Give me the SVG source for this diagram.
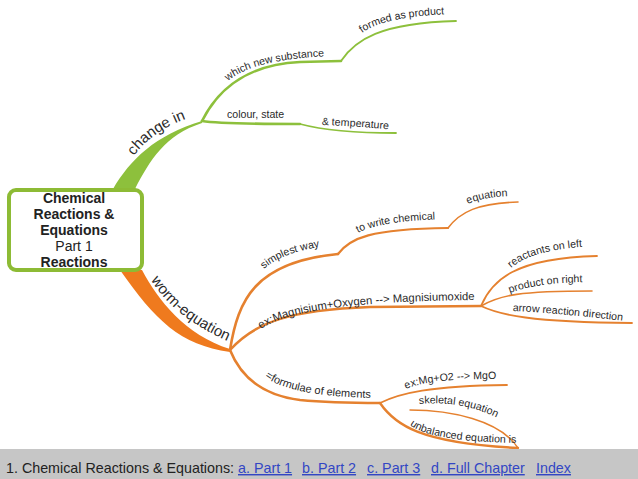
<svg xmlns="http://www.w3.org/2000/svg" width="638" height="479" viewBox="0 0 638 479">
<style>
.lbl{font-family:"Liberation Sans",Arial,sans-serif;font-size:10.6px;fill:#2a2a2a}
.big{font-family:"Liberation Sans",Arial,sans-serif;font-size:15px;fill:#2a2a2a}
.g{fill:none;stroke:#8dc03c;stroke-linecap:round}
.o{fill:none;stroke:#e5812f;stroke-linecap:round}
.ctr{font-family:"Liberation Sans",Arial,sans-serif;font-size:14px;fill:#222;text-anchor:middle}
.b{font-weight:bold}
.foot{font-family:"Liberation Sans",Arial,sans-serif;font-size:14.3px;fill:#222}
.lnk{fill:#3346c4;text-decoration:underline}
</style>
<defs>
<path id="pChange" d="M134,156 Q152,130 194,116"/>
<path id="pWorm" d="M151,280 Q174,318 232,343"/>
<path id="pWhich" d="M228,81 Q255,58 336,56"/>
<path id="pFormed" d="M362,33 Q385,16 452,14"/>
<path id="pTemp" d="M322,125 Q355,126 396,130"/>
<path id="pSimplest" d="M264,269 Q285,250 334,245"/>
<path id="pWrite" d="M358,233 Q380,221 444,219"/>
<path id="pEquation" d="M468,204 Q485,196 518,196"/>
<path id="pMagn" d="M261,329 Q300,301 480,300"/>
<path id="pReact" d="M511,268 Q532,249 594,246"/>
<path id="pProduct" d="M510,293 Q540,282 592,282"/>
<path id="pArrow" d="M513,311 Q560,313 632,322"/>
<path id="pFormulae" d="M265,377 Q292,397 378,398"/>
<path id="pMg" d="M406,389 Q430,378 506,379"/>
<path id="pSkel" d="M419,404 Q466,400 503,421"/>
<path id="pUnbal" d="M410,425 Q431,442 522,443"/>
</defs>
<rect width="638" height="479" fill="#ffffff"/>
<g id="connectors">
<path d="M113,189 C130,160 155,135 202,121 L202,123 C165,135 150,160 135,189 Z" fill="#8dc03c"/>
<path class="g" stroke-width="2.6" d="M202,121 C215,95 240,65 300,62 L341,61"/>
<path class="g" stroke-width="1.8" d="M341,61 C355,40 380,23 456,21"/>
<path class="g" stroke-width="2.6" d="M202,121 C220,124 260,124 300,124"/>
<path class="g" stroke-width="1.8" d="M300,124 C315,128 340,133 396,133"/>
<path d="M142,270 C158,300 185,335 230,349 L230,352 C180,345 155,320 120,270 Z" fill="#ef7a1e"/>
<path class="o" stroke-width="2.6" d="M230,350 C238,300 255,262 338,254"/>
<path class="o" stroke-width="2.2" d="M338,254 C350,238 370,229 448,228"/>
<path class="o" stroke-width="1.6" d="M448,228 C460,212 478,203 518,202"/>
<path class="o" stroke-width="2.6" d="M230,350 C255,322 290,310 370,307 L481,306"/>
<path class="o" stroke-width="1.8" d="M481,306 C492,280 515,258 597,256"/>
<path class="o" stroke-width="1.6" d="M481,306 C500,295 520,291 592,291"/>
<path class="o" stroke-width="1.8" d="M481,306 C500,315 530,322 632,323"/>
<path class="o" stroke-width="2.6" d="M230,350 C240,375 260,395 300,400 C330,403 360,403 380,403"/>
<path class="o" stroke-width="1.8" d="M380,403 C400,393 430,386 507,385"/>
<path class="o" stroke-width="2.4" d="M380,403 C395,425 420,443 518,448"/>
<path class="o" stroke-width="1.4" d="M410,410 C450,410 500,420 518,448"/>
</g>
<g id="central">
<rect x="9" y="190" width="133" height="80" rx="7" fill="#ffffff" stroke="#8dbb35" stroke-width="4"/>
<text class="ctr b" x="74" y="203">Chemical</text>
<text class="ctr b" x="74" y="219">Reactions &amp;</text>
<text class="ctr b" x="74" y="235">Equations</text>
<text class="ctr" x="74" y="251">Part 1</text>
<text class="ctr b" x="74" y="267">Reactions</text>
</g>
<g id="n-change-in"><text class="big"><textPath href="#pChange">change in</textPath></text></g>
<g id="n-worm-equation"><text class="big"><textPath href="#pWorm">worm-equation</textPath></text></g>
<g id="n-which"><text class="lbl"><textPath href="#pWhich">which new substance</textPath></text></g>
<g id="n-formed"><text class="lbl"><textPath href="#pFormed">formed as product</textPath></text></g>
<g id="n-colour"><text class="lbl" x="227" y="118">colour, state</text></g>
<g id="n-temp"><text class="lbl"><textPath href="#pTemp">&amp; temperature</textPath></text></g>
<g id="n-simplest"><text class="lbl"><textPath href="#pSimplest">simplest way</textPath></text></g>
<g id="n-write"><text class="lbl"><textPath href="#pWrite">to write chemical</textPath></text></g>
<g id="n-equation"><text class="lbl"><textPath href="#pEquation">equation</textPath></text></g>
<g id="n-magn"><text class="lbl" style="font-size:11.3px"><textPath href="#pMagn">ex:Magnisium+Oxygen --&gt; Magnisiumoxide</textPath></text></g>
<g id="n-react"><text class="lbl"><textPath href="#pReact">reactants on left</textPath></text></g>
<g id="n-product"><text class="lbl"><textPath href="#pProduct">product on right</textPath></text></g>
<g id="n-arrow"><text class="lbl"><textPath href="#pArrow">arrow reaction direction</textPath></text></g>
<g id="n-formulae"><text class="lbl" style="font-size:11px"><textPath href="#pFormulae">=formulae of elements</textPath></text></g>
<g id="n-mg"><text class="lbl"><textPath href="#pMg">ex:Mg+O2 --&gt; MgO</textPath></text></g>
<g id="n-skel"><text class="lbl"><textPath href="#pSkel">skeletal equation</textPath></text></g>
<g id="n-unbal"><text class="lbl"><textPath href="#pUnbal">unbalanced equation is</textPath></text></g>
<g id="footer">
<rect x="0" y="449" width="638" height="30" fill="#c6c6c6"/>
<text class="foot" x="6" y="473">1. Chemical Reactions &amp; Equations:</text>
<text class="foot lnk" x="238" y="473">a. Part 1</text>
<text class="foot lnk" x="302" y="473">b. Part 2</text>
<text class="foot lnk" x="367" y="473">c. Part 3</text>
<text class="foot lnk" x="431" y="473">d. Full Chapter</text>
<text class="foot lnk" x="536" y="473">Index</text>
</g>
</svg>
